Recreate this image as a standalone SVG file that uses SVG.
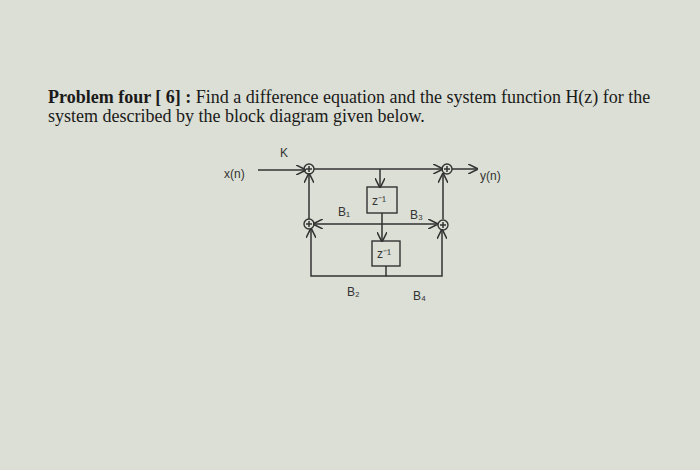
<svg xmlns="http://www.w3.org/2000/svg" width="700" height="470" viewBox="0 0 700 470">
<defs>
<marker id="a" viewBox="0 0 10 10" refX="8" refY="5" markerWidth="7" markerHeight="7" orient="auto"><path d="M0,0 L10,5 L0,10" fill="none" stroke="#333" stroke-width="1.5"/></marker>
</defs>
<style>
.t{font-family:"Liberation Serif",serif;font-size:18px;fill:#1a1a1a}
.h{font-family:"Liberation Sans",sans-serif;font-size:12px;fill:#333}
.l{stroke:#333;stroke-width:1.5;fill:none}
.ad{fill:none;stroke:#333;stroke-width:1.4}
</style>
<rect width="700" height="470" fill="#dcdfd5"/>
<text class="t" x="48" y="103"><tspan font-weight="bold">Problem four [ 6] :</tspan> Find a difference equation and the system function H(z) for the</text>
<text class="t" x="48" y="122">system described  by the block diagram given below.</text>
<g id="connectors">
<path class="l" d="M258,170 H304" marker-end="url(#a)"/>
<path class="l" d="M314,169 H441" marker-end="url(#a)"/>
<path class="l" d="M452,169 H476" marker-end="url(#a)"/>
<path class="l" d="M380,169 V186" marker-end="url(#a)"/>
<path class="l" d="M382,213 V240" marker-end="url(#a)"/>
<path class="l" d="M382,224 H315" marker-end="url(#a)"/>
<path class="l" d="M382,224 H436" marker-end="url(#a)"/>
<path class="l" d="M386,266 V276 H311 V230" marker-end="url(#a)"/>
<path class="l" d="M386,276 H442 V231" marker-end="url(#a)"/>
<path class="l" d="M309,219 V175" marker-end="url(#a)"/>
<path class="l" d="M443,219 V175" marker-end="url(#a)"/>
</g>
<g id="adder1"><circle class="ad" cx="309" cy="169" r="5"/><path class="l" d="M306,169h6M309,166v6"/></g>
<g id="adder2"><circle class="ad" cx="447" cy="169" r="5"/><path class="l" d="M444,169h6M447,166v6"/></g>
<g id="adder3"><circle class="ad" cx="309" cy="224" r="5"/><path class="l" d="M306,224h6M309,221v6"/></g>
<g id="adder4"><circle class="ad" cx="443" cy="225" r="5"/><path class="l" d="M440,225h6M443,222v6"/></g>
<g id="delay1"><rect class="ad" x="367" y="187" width="30" height="26"/><text class="h" x="372" y="205">z⁻¹</text></g>
<g id="delay2"><rect class="ad" x="372" y="241" width="28" height="25"/><text class="h" x="377" y="258">z⁻¹</text></g>
<g id="labels">
<text class="h" x="224" y="178">x(n)</text>
<text class="h" x="280" y="157">K</text>
<text class="h" x="480" y="180">y(n)</text>
<text class="h" x="338" y="216">B₁</text>
<text class="h" x="410" y="219">B₃</text>
<text class="h" x="347" y="296">B₂</text>
<text class="h" x="413" y="300">B₄</text>
</g>
</svg>
